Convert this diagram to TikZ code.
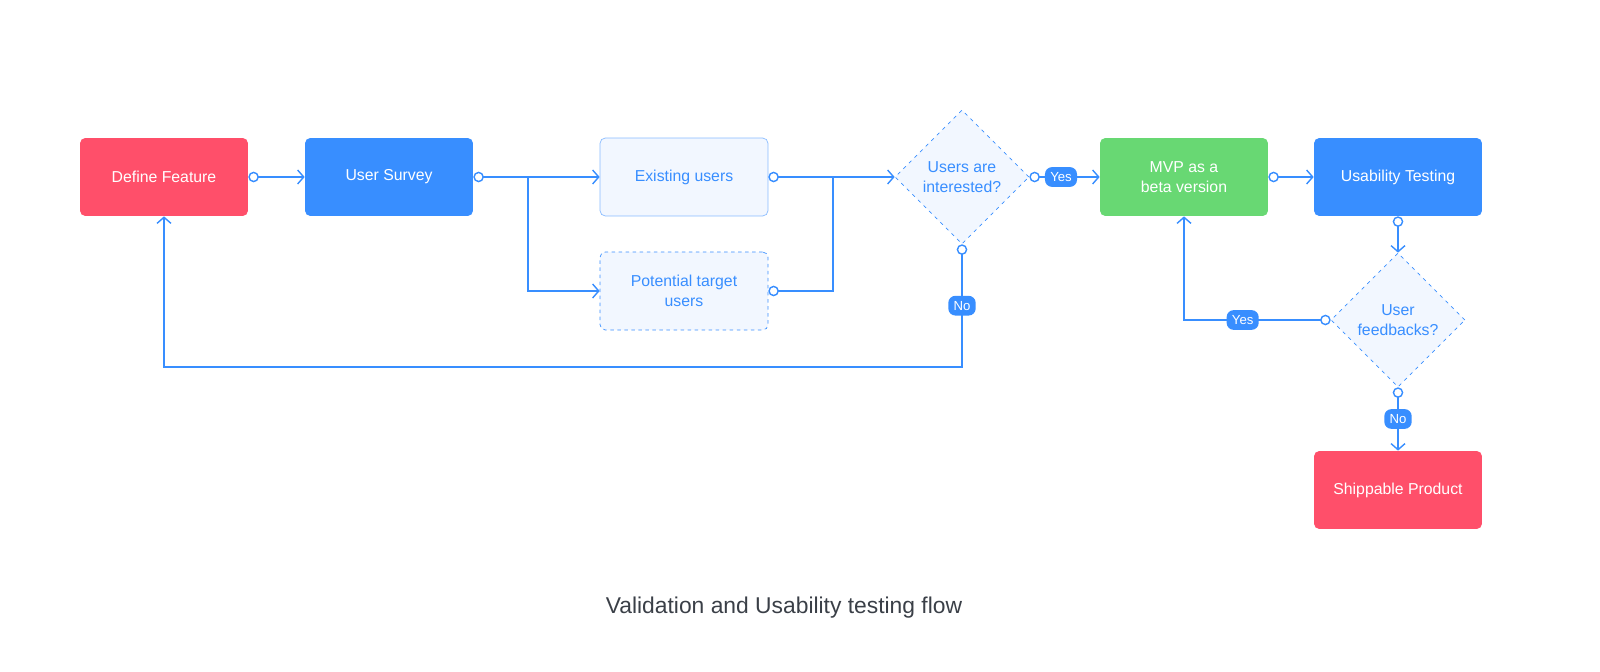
\documentclass[tikz,border=0pt]{standalone}
\usepackage{fontspec}
\setmainfont{Liberation Sans}
\usetikzlibrary{arrows.meta}
\usetikzlibrary{shapes.geometric}
\definecolor{flowblue}{HTML}{388EFF}
\definecolor{flowred}{HTML}{FF4F6A}
\definecolor{flowgreen}{HTML}{68D873}
\definecolor{flowpale}{HTML}{F2F7FF}
\definecolor{flowtext}{HTML}{3A3F47}
\begin{document}
\begin{tikzpicture}[x=0.02cm,y=-0.02cm,
                    font=\fontsize{9}{11}\selectfont,
                    my box/.style={
                        rectangle,
                        rounded corners=3pt,
                        minimum width=3.36cm,
                        minimum height=1.56cm,
                        align=center,
                        text=white},
                    my pale/.style={my box,fill=flowpale,draw=flowblue!60,text=flowblue},
                    my pale dash/.style={my pale,draw=flowblue,dash pattern=on 2pt off 2pt},
                    my choice/.style={diamond,minimum width=2.68cm,minimum height=2.68cm,inner sep=0pt,
                        fill=flowpale,draw=flowblue,dash pattern=on 2pt off 2.5pt,text=flowblue,align=center},
                    my link/.style={flowblue,thick,{Circle[open,fill=white,length=6pt]}-{Straight Barb[length=3.5pt,width=8pt]}},
                    my line/.style={flowblue,thick,{Circle[open,fill=white,length=6pt]}-},
                    my tag/.style={fill=flowblue,text=white,rounded corners=4pt,inner sep=3pt,font=\fontsize{7.5}{9}\selectfont}]
\useasboundingbox (0,0) rectangle (1600,672);
% boxes
\node[my box,fill=flowred] (define) at (164,177) {Define Feature};
\node[my box,fill=flowblue] (survey) at (389,177) {User Survey};
\node[my pale] (existing) at (684,177) {Existing users};
\node[my pale dash] (potential) at (684,291) {Potential target\\users};
\node[my choice] (interested) at (962,177) {Users are\\interested?};
\node[my box,fill=flowgreen] (mvp) at (1184,177) {MVP as a\\beta version};
\node[my box,fill=flowblue] (usability) at (1398,177) {Usability Testing};
\node[my choice] (feedback) at (1398,320) {User\\feedbacks?};
\node[my box,fill=flowred] (ship) at (1398,490) {Shippable Product};
% helper points
\coordinate (split) at (528,177);
\coordinate (merge) at (833,177);
\coordinate (back) at (962,367);
\coordinate (retry) at (1184,320);
% connectors
\draw[my link] (define) -- (survey);
\draw[my link] (survey) -- (existing);
\draw[flowblue,thick,-{Straight Barb[length=3.5pt,width=8pt]}] (split) |- (potential);
\draw[my link] (existing) -- (interested);
\draw[my line] (potential) -| (merge);
\draw[my link] (interested) -- node[my tag,pos=0.45]{Yes} (mvp);
\draw[my link] (interested.south) -- node[my tag,pos=0.5]{No} (back) -| (define.south);
\draw[my link] (mvp) -- (usability);
\draw[my link] (usability.south) -- (feedback.north);
\draw[my link] (feedback.west) -- node[my tag,pos=0.6]{Yes} (retry) -- (mvp.south);
\draw[my link] (feedback.south) -- node[my tag]{No} (ship);
% caption
\node[text=flowtext,font=\fontsize{13}{15}\selectfont] (caption) at (784,608) {Validation and Usability testing flow};
\end{tikzpicture}
\end{document}
